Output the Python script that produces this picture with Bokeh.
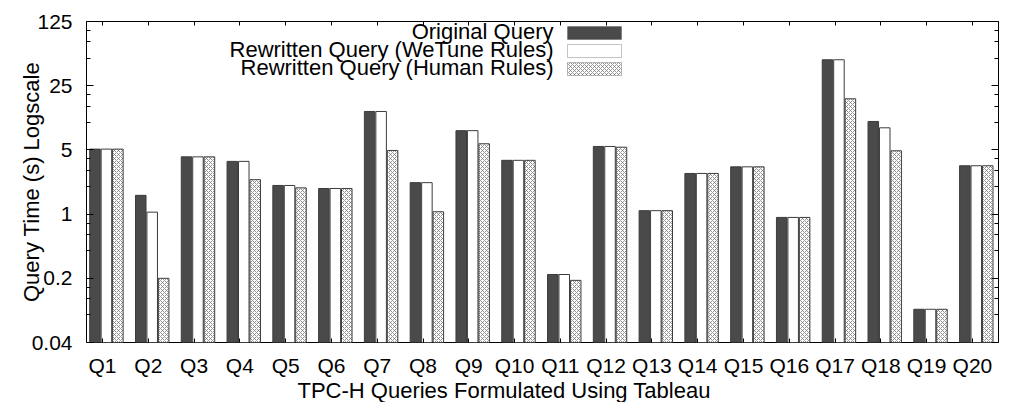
import numpy as np
from bokeh.plotting import figure
from bokeh.models import (Range1d, FixedTicker, LinearAxis, LogAxis, CustomJSTickFormatter,
                          Label, BoxAnnotation, Title)
from bokeh.embed import file_html
from bokeh.resources import INLINE

# ---- data ----
queries = ["Q1", "Q2", "Q3", "Q4", "Q5", "Q6", "Q7", "Q8", "Q9", "Q10",
           "Q11", "Q12", "Q13", "Q14", "Q15", "Q16", "Q17", "Q18", "Q19", "Q20"]
original = [5.1, 1.6, 4.2, 3.75, 2.05, 1.9, 13.1, 2.2, 8.1, 3.85,
            0.22, 5.45, 1.09, 2.77, 3.27, 0.92, 47.9, 10.2, 0.092, 3.36]
wetune = [5.1, 1.05, 4.2, 3.75, 2.05, 1.9, 13.1, 2.2, 8.1, 3.85,
          0.22, 5.45, 1.09, 2.77, 3.27, 0.92, 47.9, 8.7, 0.092, 3.36]
human = [5.1, 0.2, 4.2, 2.37, 1.93, 1.9, 4.93, 1.06, 5.83, 3.85,
         0.19, 5.35, 1.09, 2.77, 3.27, 0.92, 18.0, 4.89, 0.092, 3.36]
series_names = ["Original Query", "Rewritten Query (WeTune Rules)", "Rewritten Query (Human Rules)"]
y_ticks = [0.04, 0.2, 1, 5, 25, 125]
x_title = "TPC-H Queries Formulated Using Tableau"
y_title = "Query Time (s) Logscale"

FONT = "Liberation Sans"
FS = "21px"
FS_BIG = "22px"

# ---- figure / geometry ----
W, H = 1011, 402
BL, BR, BT, BB = 86, 13, 21, 60
x0, x1 = 0.65, 20.57
y0, y1 = y_ticks[0], y_ticks[-1]

p = figure(width=W, height=H, output_backend="svg", toolbar_location=None,
           y_axis_type="log", x_range=Range1d(x0, x1), y_range=Range1d(y0, y1),
           min_border_left=BL, min_border_right=BR, min_border_top=BT, min_border_bottom=BB)
p.grid.visible = False
p.outline_line_color = "black"
p.outline_line_width = 1
p.background_fill_color = "white"
p.border_fill_color = "white"

# page-pixel -> data helpers (for legend placement only)
FW, FH = W - BL - BR, H - BT - BB
def px_x(px):
    return x0 + (px - BL) / FW * (x1 - x0)
def px_y(py):
    f = (py - BT) / FH
    return float(np.exp(np.log(y1) - f * (np.log(y1) - np.log(y0))))

xs = np.arange(1, len(queries) + 1)
offsets = [-0.165, 0.085, 0.335]
bw = 0.23
line_c = "#3c3c3c"
hatch = dict(hatch_pattern="x", hatch_color="#777777", hatch_scale=4, hatch_weight=0.8)
p.vbar(x=xs + offsets[0], top=original, bottom=y0, width=bw,
       fill_color="#4a4a4a", line_color=line_c, line_width=1)
p.vbar(x=xs + offsets[1], top=wetune, bottom=y0, width=bw,
       fill_color="white", line_color=line_c, line_width=1)
p.vbar(x=xs + offsets[2], top=human, bottom=y0, width=bw,
       fill_color="white", line_color=line_c, line_width=1, **hatch)

# ---- axes ----
minor = [b * k for b in y_ticks[:-1] for k in (2, 3, 4)]
fmt = CustomJSTickFormatter(code="return tick.toString()")
blank = CustomJSTickFormatter(code="return ''")

ya = p.yaxis[0]
ya.ticker = FixedTicker(ticks=y_ticks, minor_ticks=minor)
ya.formatter = fmt
ya.major_tick_in = 7
ya.major_tick_out = 0
ya.minor_tick_in = 4
ya.minor_tick_out = 0
ya.major_label_standoff = 14
ya.major_label_text_font = FONT
ya.major_label_text_font_size = FS
ya.major_label_text_color = "black"
ya.axis_label = y_title
ya.axis_label_text_font = FONT
ya.axis_label_text_font_size = FS_BIG
ya.axis_label_text_font_style = "normal"
ya.axis_label_text_color = "black"
ya.axis_label_standoff = -15
ya.axis_line_color = None

xa = p.xaxis[0]
xa.ticker = FixedTicker(ticks=list(xs))
xa.major_label_overrides = {int(i): q for i, q in zip(xs, queries)}
xa.major_tick_in = 4
xa.major_tick_out = 0
xa.minor_tick_line_color = None
xa.major_label_standoff = 11
xa.major_label_text_font = FONT
xa.major_label_text_font_size = FS
xa.major_label_text_color = "black"
xa.axis_line_color = None

ra = LogAxis(ticker=FixedTicker(ticks=y_ticks, minor_ticks=minor), formatter=blank,
             major_tick_in=7, major_tick_out=0, minor_tick_in=4, minor_tick_out=0,
             major_label_standoff=0, axis_line_color=None)
p.add_layout(ra, "right")
ta = LinearAxis(ticker=FixedTicker(ticks=list(xs)), formatter=blank, major_tick_in=4, major_tick_out=0,
                minor_tick_line_color=None, major_label_standoff=0, axis_line_color=None)
p.add_layout(ta, "above")

t = Title(text=x_title, align="left", offset=297 - BL, text_font=FONT, text_font_size=FS_BIG,
          text_font_style="normal", text_color="black", standoff=-7)
p.add_layout(t, "below")

# ---- legend (manual: text right-aligned, swatch to the right) ----
rows = [32.5, 50.5, 68.5]
styles = [dict(fill_color="#4a4a4a"), dict(fill_color="white"), dict(fill_color="white", **hatch)]
for name, cy, st in zip(series_names, rows, styles):
    p.add_layout(Label(x=px_x(553), y=px_y(cy - 1.5), text=name, text_align="right",
                       text_baseline="middle", text_font=FONT, text_font_size=FS_BIG, text_color="black"))
    p.add_layout(BoxAnnotation(left=px_x(567), right=px_x(621), top=px_y(cy - 6.5), bottom=px_y(cy + 6.5),
                               line_color=line_c, line_width=1, fill_alpha=1, level="overlay", **st))

open("out.html", "w").write(file_html(p, INLINE))
